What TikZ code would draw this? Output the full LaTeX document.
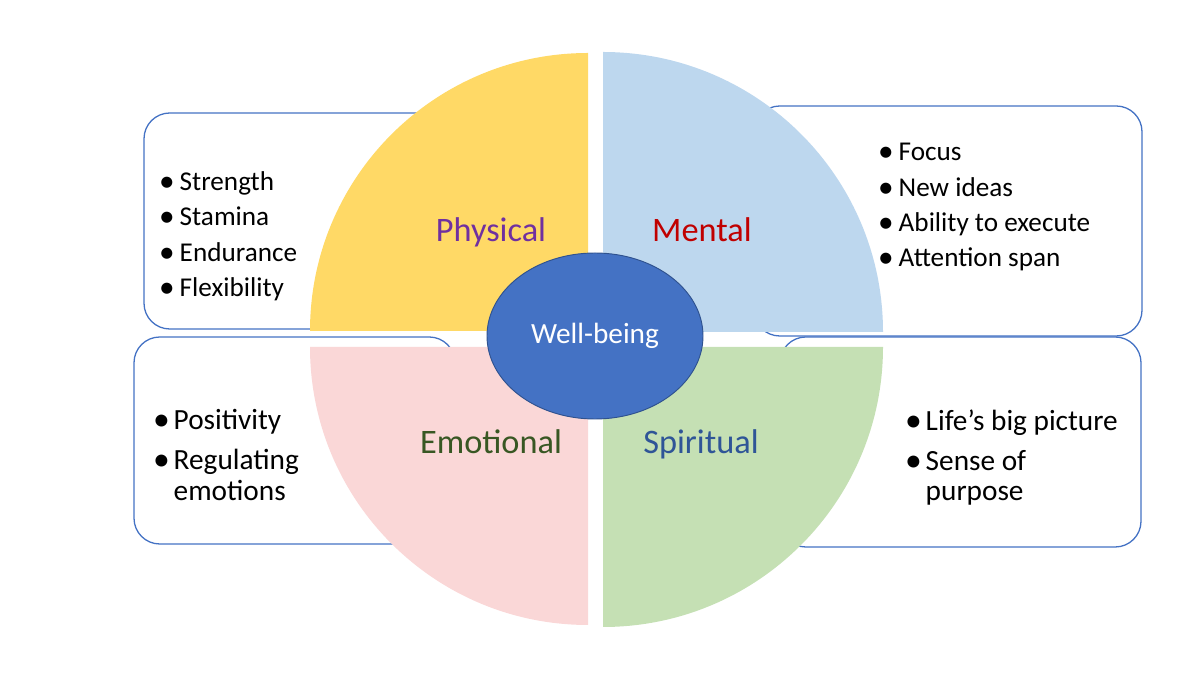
\documentclass[tikz,border=0pt]{standalone}
\usepackage{fontspec}
\usepackage{graphicx}
\setmainfont{Carlito}
\usetikzlibrary{shapes.geometric}
\definecolor{physfill}{HTML}{FFD966}
\definecolor{mentfill}{HTML}{BDD7EE}
\definecolor{emofill}{HTML}{FAD7D7}
\definecolor{spirfill}{HTML}{C5E0B4}
\definecolor{hubfill}{HTML}{4472C4}
\definecolor{hubline}{HTML}{2F528F}
\definecolor{phystext}{HTML}{7030A0}
\definecolor{menttext}{HTML}{C00000}
\definecolor{emotext}{HTML}{385723}
\definecolor{spirtext}{HTML}{2F5597}
\newcommand{\itm}[1]{\makebox[17.5pt][l]{\raisebox{-0.03em}{\scalebox{1.15}{\textbullet}}}#1}
\newcommand{\cnt}[1]{\hspace*{17.5pt}#1}

\begin{document}
\begin{tikzpicture}[x=0.03cm,y=0.03cm,
	infobox/.style={draw=hubfill, line width=1.1pt, rounded corners=22pt, fill=white},
	quartlbl/.style={font=\fontsize{29.3pt}{35pt}\selectfont, anchor=base, inner sep=0},
	toplist/.style={font=\fontsize{23.2pt}{30.1pt}\selectfont, anchor=base west, inner sep=0},
	lowlist/.style={font=\fontsize{25pt}{26pt}\selectfont, anchor=base west, inner sep=0},
	hub/.style={ellipse, draw=hubline, line width=0.8pt, fill=hubfill, text=white,
		minimum width=6.48cm, minimum height=4.98cm, inner sep=0,
		font=\fontsize{25pt}{30pt}\selectfont}]
	\useasboundingbox (0,0) rectangle (1200,675);
	% boxes behind the circle
	\draw [infobox] (144,346) rectangle (460,562);
	\draw [infobox] (754,339) rectangle (1142,569);
	\draw [infobox] (134,131) rectangle (455,338);
	\draw [infobox] (780,128) rectangle (1141,338);
	% four quarters
	\fill [physfill] (588,344) -- ++(-278,0) arc [start angle=180, end angle=90, radius=278] -- cycle;
	\fill [mentfill] (603,343) -- ++(0,280) arc [start angle=90, end angle=0, radius=280] -- cycle;
	\fill [emofill] (588,328) -- ++(-278,0) arc [start angle=180, end angle=270, radius=278] -- cycle;
	\fill [spirfill] (603,328) -- ++(0,-280) arc [start angle=270, end angle=360, radius=280] -- cycle;
	\node [quartlbl, text=phystext] (phys) at (491,433) {Physical};
	\node [quartlbl, text=menttext] (ment) at (702,433) {Mental};
	\node [quartlbl, text=emotext] (emo) at (491,221) {Emotional};
	\node [quartlbl, text=spirtext] (spir) at (701,221) {Spiritual};
	\node [hub] (hub) at (595,339) {Well-being};
	% lists
	\node [toplist] (physlist) at (159,484.3) {\begin{tabular}[t]{@{}l@{}}
		\itm{Strength}\\ \itm{Stamina}\\ \itm{Endurance}\\ \itm{Flexibility}\end{tabular}};
	\node [toplist] (mentlist) at (878,514) {\begin{tabular}[t]{@{}l@{}}
		\itm{Focus}\\ \itm{New ideas}\\ \itm{Ability to execute}\\ \itm{Attention span}\end{tabular}};
	\node [lowlist] (emolist) at (153,245) {\begin{tabular}[t]{@{}l@{}}
		\itm{Positivity}\\[8pt] \itm{Regulating}\\ \cnt{emotions}\end{tabular}};
	\node [lowlist] (spirlist) at (905,244.3) {\begin{tabular}[t]{@{}l@{}}
		\itm{Life’s big picture}\\[8pt] \itm{Sense of}\\ \cnt{purpose}\end{tabular}};
\end{tikzpicture}
\end{document}
